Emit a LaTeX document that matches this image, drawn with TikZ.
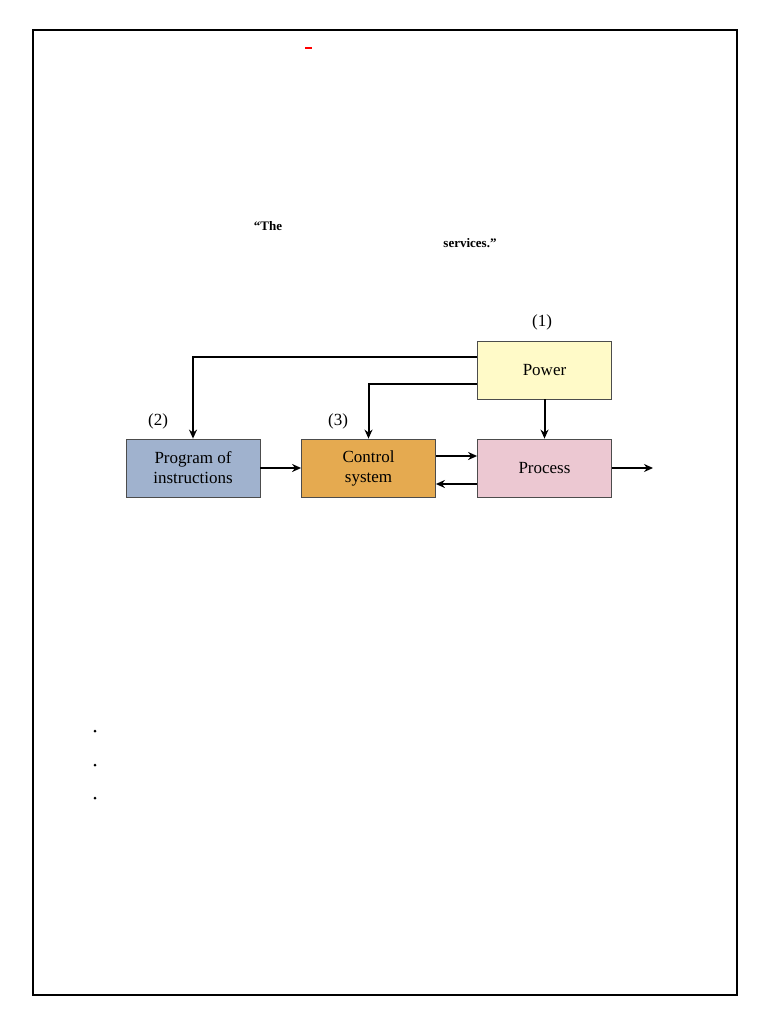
\documentclass[tikz,border=0pt]{standalone}
\usepackage{fontspec}
\setmainfont{Liberation Serif}
\usetikzlibrary{arrows.meta}
\definecolor{cpow}{RGB}{255,250,200}
\definecolor{cprog}{RGB}{160,178,206}
\definecolor{cctl}{RGB}{229,170,80}
\definecolor{cproc}{RGB}{236,200,210}
\begin{document}
\begin{tikzpicture}[x=1pt,y=-1pt,
  box/.style={draw=black!70,line width=0.8pt,minimum width=134pt,minimum height=58pt,align=center,font=\fontsize{17}{20}\selectfont,inner sep=0pt},
  lab/.style={font=\fontsize{17}{17}\selectfont},
  arr/.style={line width=2pt,-{Stealth[length=9pt,width=8pt]}}]
\useasboundingbox (0,0) rectangle (768,1024);
\draw[line width=2.2pt] (33,30) rectangle (737,995);
\draw[red,line width=1.5pt] (305,48) -- (312,48);
\node[font=\bfseries\fontsize{13}{13}\selectfont] (t1) at (268,226) {“The};
\node[font=\bfseries\fontsize{13}{13}\selectfont] (t2) at (470,243) {services.”};
\node[box,fill=cpow] (pow) at (544.5,370) {Power};
\node[box,fill=cprog] (prog) at (193,468) {Program of\\instructions};
\node[box,fill=cctl] (ctl) at (368.5,468) {Control\\system};
\node[box,fill=cproc] (proc) at (544.5,468) {Process};
\node[lab] (l1) at (542,322) {(1)};
\node[lab] (l2) at (158,421) {(2)};
\node[lab] (l3) at (338,421) {(3)};
\coordinate (out) at (653,468);
\draw[arr] (pow.west|-0,357) -| (prog.north);
\draw[arr] (pow.west|-0,384) -| (ctl.north);
\draw[arr] (pow.south) -- (proc.north);
\draw[arr] (prog.east) -- (ctl.west);
\draw[arr] (ctl.east|-0,456) -- (proc.west|-0,456);
\draw[arr] (proc.west|-0,484) -- (ctl.east|-0,484);
\draw[arr] (proc.east) -- (out);
\foreach \y/\n in {731/b1,765/b2,798/b3}
  \node[circle,fill=black,inner sep=0pt,minimum size=3pt] (\n) at (95,\y) {};
\end{tikzpicture}
\end{document}
